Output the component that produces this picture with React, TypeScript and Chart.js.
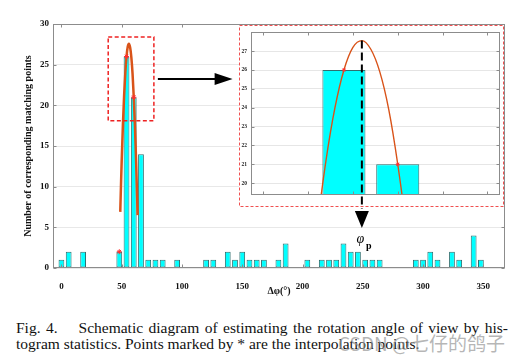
import React, { useEffect, useRef } from "react";
import { Chart, registerables } from "chart.js";

Chart.register(...registerables);

// ---------------- data ----------------
const BIN_CENTERS = [0, 6, 12, 18, 24, 30, 36, 42, 48, 54, 60, 66, 72, 78, 84, 90, 96, 102, 108, 114, 120, 126, 132, 138, 144, 150, 156, 162, 168, 174, 180, 186, 192, 198, 204, 210, 216, 222, 228, 234, 240, 246, 252, 258, 264, 270, 276, 282, 288, 294, 300, 306, 312, 318, 324, 330, 336, 342, 348, 354];
const COUNTS = [
  1, 2, 0, 2, 0, 0, 0, 0, 2, 26,
  21, 14, 1, 1, 1, 0, 1, 0, 0, 0,
  1, 1, 0, 2, 1, 2, 1, 1, 1, 0,
  1, 3, 0, 0, 1, 0, 1, 1, 1, 3,
  2, 2, 1, 1, 1, 0, 0, 0, 0, 1,
  1, 2, 1, 0, 2, 1, 0, 4, 1, 0,
];
const X_TICKS = [0, 50, 100, 150, 200, 250, 300, 350];
const Y_TICKS = [0, 5, 10, 15, 20, 25, 30];

// fitted curve, points
const CURVE_X = [48.8, 49.5, 50, 51, 52, 53, 54, 55, 56, 57, 58, 59, 60, 61, 62, 63.2];
const CURVE_Y = [6.9, 10.7, 13.2, 17.6, 21.2, 24.0, 26.0, 27.2, 27.56, 27.1, 25.9, 23.9, 21.0, 17.4, 12.9, 6.5];
// interpolation points marked by *
const STAR_X = [48, 54, 60];
const STAR_Y = [2, 26, 21];
// estimated peak (phi_p)
const PEAK_X = 56;
const PEAK_Y = 27.56;

const INSET_X_TICKS = [45, 50, 55, 60, 65, 70];
const INSET_Y_TICKS = [20, 21, 22, 23, 24, 25, 26, 27];

// annotation anchors in data units (main plot)
const ZOOM_BOX_X = [38.8, 76.7];
const ZOOM_BOX_Y = [18.1, 28.4];
const ARROW_X = [80, 142];
const ARROW_Y = 23.25;

const CAPTION_1 = "Fig. 4.\u2003 Schematic diagram of estimating the rotation angle of view by his-";
const CAPTION_2 = "togram statistics. Points marked by * are the interpolation points.";
const WATERMARK = "CSDN @七仔的鸽子";

// ---------------- styles ----------------
const SERIF = '"Liberation Serif", "Times New Roman", serif';
const FRAME = "#8c8c8c";
const BAR_FILL = "#00FFFF";
const BAR_EDGE = "#2f6f6f";
const CURVE_COLOR = "#D95319";
const STAR_COLOR = "#ff3030";

const bars = () =>
  BIN_CENTERS.map((x, i) => ({ x, y: COUNTS[i] })).filter((p) => p.y > 0);
const curve = () => CURVE_X.map((x, i) => ({ x, y: CURVE_Y[i] }));
const stars = () => STAR_X.map((x, i) => ({ x, y: STAR_Y[i] }));

function framePlugin(id: string, xTicks: number[], yTicks: number[], tickLen: number) {
  return {
    id,
    afterDatasetsDraw(chart: any) {
      const { ctx, chartArea: a, scales } = chart;
      const x = scales.x;
      const y = scales.y;
      ctx.save();
      ctx.strokeStyle = FRAME;
      ctx.lineWidth = 1;
      ctx.setLineDash([]);
      const L = Math.round(a.left) + 0.5;
      const R = Math.round(a.right) - 0.5;
      const T = Math.round(a.top) + 0.5;
      const B = Math.round(a.bottom) - 0.5;
      ctx.strokeRect(L, T, R - L, B - T);
      ctx.beginPath();
      for (const v of xTicks) {
        const px = Math.round(x.getPixelForValue(v)) + 0.5;
        ctx.moveTo(px, B);
        ctx.lineTo(px, B - tickLen);
        ctx.moveTo(px, T);
        ctx.lineTo(px, T + tickLen);
      }
      for (const v of yTicks) {
        const py = Math.round(y.getPixelForValue(v)) + 0.5;
        ctx.moveTo(L, py);
        ctx.lineTo(L + tickLen, py);
        ctx.moveTo(R, py);
        ctx.lineTo(R - tickLen, py);
      }
      ctx.stroke();
      ctx.restore();
    },
  };
}

const mainAnnotations = {
  id: "mainAnnotations",
  afterDraw(chart: any) {
    const { ctx, scales } = chart;
    const x = scales.x;
    const y = scales.y;
    ctx.save();
    const x0 = x.getPixelForValue(ZOOM_BOX_X[0]);
    const x1 = x.getPixelForValue(ZOOM_BOX_X[1]);
    const y0 = y.getPixelForValue(ZOOM_BOX_Y[1]);
    const y1 = y.getPixelForValue(ZOOM_BOX_Y[0]);
    ctx.strokeStyle = "#ee2222";
    ctx.lineWidth = 1.5;
    ctx.setLineDash([4, 2.5]);
    ctx.strokeRect(x0, y0, x1 - x0, y1 - y0);
    ctx.setLineDash([]);
    const ax0 = x.getPixelForValue(ARROW_X[0]);
    const ax1 = x.getPixelForValue(ARROW_X[1]);
    const ay = y.getPixelForValue(ARROW_Y);
    const head = 18;
    ctx.strokeStyle = "#000";
    ctx.lineWidth = 2;
    ctx.beginPath();
    ctx.moveTo(ax0, ay);
    ctx.lineTo(ax1 - head + 1, ay);
    ctx.stroke();
    ctx.fillStyle = "#000";
    ctx.beginPath();
    ctx.moveTo(ax1, ay);
    ctx.lineTo(ax1 - head, ay - 6);
    ctx.lineTo(ax1 - head, ay + 6);
    ctx.closePath();
    ctx.fill();
    ctx.restore();
  },
};

const insetDecor = {
  id: "insetDecor",
  beforeDraw(chart: any) {
    const { ctx } = chart;
    ctx.save();
    ctx.fillStyle = "#fff";
    ctx.fillRect(0, 0, 265, 182);
    ctx.strokeStyle = "#f05050";
    ctx.lineWidth = 1;
    ctx.setLineDash([3, 2]);
    ctx.strokeRect(0.5, 0.5, 264, 181);
    ctx.restore();
  },
  afterDraw(chart: any) {
    const { ctx, scales } = chart;
    const px = scales.x.getPixelForValue(PEAK_X);
    const py = scales.y.getPixelForValue(PEAK_Y);
    ctx.save();
    ctx.strokeStyle = "#000";
    ctx.lineWidth = 2;
    ctx.setLineDash([8, 4]);
    ctx.beginPath();
    ctx.moveTo(px, py);
    ctx.lineTo(px, 184);
    ctx.stroke();
    ctx.setLineDash([]);
    ctx.fillStyle = "#000";
    ctx.beginPath();
    ctx.moveTo(px - 7, 186);
    ctx.lineTo(px + 7, 186);
    ctx.lineTo(px, 203);
    ctx.closePath();
    ctx.fill();
    ctx.textAlign = "center";
    ctx.textBaseline = "middle";
    ctx.font = `italic 14px ${SERIF}`;
    ctx.fillText("\u03C6", px - 1.5, 214);
    ctx.font = `bold 10px ${SERIF}`;
    ctx.fillText("p", px + 7, 221);
    ctx.restore();
  },
};

function datasets(starRadius: number, curveWidth: number, barPct: number): any[] {
  return [
    {
      type: "scatter",
      data: stars(),
      pointStyle: "star",
      radius: starRadius,
      borderColor: STAR_COLOR,
      backgroundColor: STAR_COLOR,
      borderWidth: 1,
      order: 0,
    },
    {
      type: "line",
      data: curve(),
      borderColor: CURVE_COLOR,
      borderWidth: curveWidth,
      pointRadius: 0,
      cubicInterpolationMode: "monotone",
      fill: false,
      order: 1,
    },
    {
      type: "bar",
      data: bars(),
      backgroundColor: BAR_FILL,
      borderColor: BAR_EDGE,
      borderWidth: 1,
      borderSkipped: false,
      barPercentage: barPct,
      categoryPercentage: 1,
      order: 2,
    },
  ];
}

function tickFont(size: number) {
  return { family: SERIF, size, weight: "bold" };
}

function mainConfig(): any {
  return {
    type: "bar",
    data: { datasets: datasets(2.5, 2.5, 0.8) },
    options: {
      responsive: false,
      animation: false,
      devicePixelRatio: 1,
      layout: { padding: { left: 0, top: 24, right: 19, bottom: 0 } },
      plugins: { legend: { display: false }, tooltip: { enabled: false } },
      scales: {
        x: {
          type: "linear",
          min: -7,
          max: 368,
          offset: false,
          afterBuildTicks: (s: any) => {
            s.ticks = X_TICKS.map((v) => ({ value: v }));
          },
          afterFit: (s: any) => {
            s.height = 32;
          },
          grid: { display: false },
          border: { display: false },
          ticks: {
            autoSkip: false,
            maxRotation: 0,
            padding: 5,
            color: "#111",
            font: tickFont(9),
            callback: (v: any) => String(v),
          },
          title: {
            display: true,
            text: "\u0394\u03C6(\u00B0)",
            color: "#111",
            font: { family: SERIF, size: 10, weight: "bold" },
            padding: { top: 0, bottom: 3 },
          },
        },
        y: {
          type: "linear",
          min: 0,
          max: 30,
          afterBuildTicks: (s: any) => {
            s.ticks = Y_TICKS.map((v) => ({ value: v }));
          },
          afterFit: (s: any) => {
            s.width = 53;
          },
          grid: { color: "#e8e8e8", drawTicks: false },
          border: { display: false },
          ticks: {
            padding: 4,
            color: "#111",
            font: tickFont(9),
            callback: (v: any) => String(v),
          },
          title: {
            display: true,
            text: "Number of corresponding matching points",
            color: "#111",
            font: { family: SERIF, size: 10, weight: "bold" },
            padding: { top: 22, bottom: 0 },
          },
        },
      },
    },
    plugins: [framePlugin("mainFrame", X_TICKS, Y_TICKS, 3), mainAnnotations],
  };
}

function insetConfig(): any {
  // in the inset the tick spacing (5) is smaller than the bin spacing (6),
  // Chart.js sizes bars on the smaller one, hence 0.96 = 0.8 * 6 / 5
  return {
    type: "bar",
    data: { datasets: datasets(2, 1.4, 0.96) },
    options: {
      responsive: false,
      animation: false,
      devicePixelRatio: 1,
      layout: { padding: { left: 0, top: 2, right: 2, bottom: 48 } },
      plugins: { legend: { display: false }, tooltip: { enabled: false } },
      scales: {
        x: {
          type: "linear",
          min: 43.64,
          max: 71.4,
          offset: false,
          afterBuildTicks: (s: any) => {
            s.ticks = INSET_X_TICKS.map((v) => ({ value: v }));
          },
          afterFit: (s: any) => {
            s.height = 12;
          },
          grid: { display: false },
          border: { display: false },
          ticks: {
            autoSkip: false,
            maxRotation: 0,
            padding: 4,
            color: "#222",
            font: tickFont(5.5),
            callback: (v: any) => String(v),
          },
        },
        y: {
          type: "linear",
          min: 19.37,
          max: 28,
          afterBuildTicks: (s: any) => {
            s.ticks = INSET_Y_TICKS.map((v) => ({ value: v }));
          },
          afterFit: (s: any) => {
            s.width = 12;
          },
          grid: { color: "#e6e6e6", drawTicks: false },
          border: { display: false },
          ticks: {
            padding: 4,
            color: "#222",
            font: tickFont(5.5),
            callback: (v: any) => String(v),
          },
        },
      },
    },
    plugins: [framePlugin("insetFrame", INSET_X_TICKS, INSET_Y_TICKS, 3), insetDecor],
  };
}

export default function App() {
  const mainRef = useRef<HTMLCanvasElement>(null);
  const insetRef = useRef<HTMLCanvasElement>(null);

  useEffect(() => {
    const main = new Chart(mainRef.current as HTMLCanvasElement, mainConfig());
    const inset = new Chart(insetRef.current as HTMLCanvasElement, insetConfig());
    return () => {
      main.destroy();
      inset.destroy();
    };
  }, []);

  const captionStyle: any = {
    position: "absolute",
    left: 16,
    fontFamily: SERIF,
    fontSize: 15.5,
    lineHeight: "16px",
    color: "#111",
    whiteSpace: "nowrap",
  };

  return (
    <div
      style={{
        position: "fixed",
        left: 0,
        top: 0,
        width: 524,
        height: 363,
        background: "#fff",
        overflow: "hidden",
      }}
    >
      <canvas ref={mainRef} width={524} height={300} style={{ position: "absolute", left: 0, top: 0 }} />
      <canvas ref={insetRef} width={266} height={230} style={{ position: "absolute", left: 239, top: 25 }} />
      <div
        style={{
          ...captionStyle,
          top: 320,
          width: 492,
          textAlign: "justify",
          textAlignLast: "justify",
        }}
      >
        {CAPTION_1}
      </div>
      <div style={{ ...captionStyle, top: 336 }}>{CAPTION_2}</div>
      <div
        style={{
          position: "absolute",
          left: 338,
          top: 333,
          fontFamily: '"Noto Sans CJK SC", "Noto Sans", sans-serif',
          fontSize: 19,
          lineHeight: "19px",
          color: "rgba(150,150,150,0.7)",
          whiteSpace: "nowrap",
        }}
      >
        {WATERMARK}
      </div>
    </div>
  );
}
